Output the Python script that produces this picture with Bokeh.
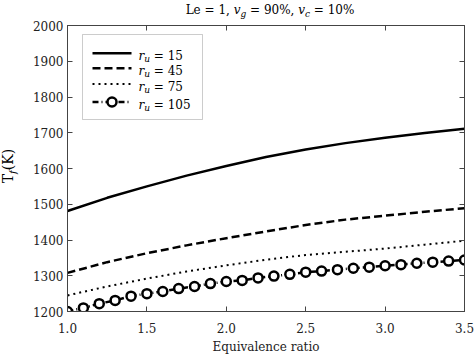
from bokeh.plotting import figure
from bokeh.models import LinearAxis, Range1d, FixedTicker, Label, BoxAnnotation, Div, Row, Column
from bokeh.embed import file_html
from bokeh.resources import INLINE

# ---------------- data ----------------
phi_curve = [1.0, 1.25, 1.5, 1.75, 2.0, 2.25, 2.5, 2.75, 3.0, 3.25, 3.5]
tf_ru15 = [1481, 1518, 1550, 1580, 1607, 1632, 1653, 1671, 1686, 1699, 1711]
tf_ru45 = [1308, 1338, 1363, 1385, 1405, 1424, 1442, 1457, 1468, 1479, 1489]
tf_ru75 = [1245, 1270, 1292, 1312, 1329, 1345, 1358, 1367, 1376, 1387, 1398]
phi_marker = [1.0, 1.1, 1.2, 1.3, 1.4, 1.5, 1.6, 1.7, 1.8, 1.9, 2.0, 2.1, 2.2,
              2.3, 2.4, 2.5, 2.6, 2.7, 2.8, 2.9, 3.0, 3.1, 3.2, 3.3, 3.4, 3.5]
tf_ru105 = [1200, 1210, 1222, 1231, 1243, 1250, 1256, 1264, 1270, 1278, 1284, 1287, 1294,
            1299, 1304, 1310, 1313, 1317, 1321, 1324, 1328, 1331, 1335, 1338, 1341, 1344]
ru_values = ["15", "45", "75", "105"]
x_ticks = [1.0, 1.5, 2.0, 2.5, 3.0, 3.5]
x_tick_labels = ["1.0", "1.5", "2.0", "2.5", "3.0", "3.5"]
y_ticks = [1200, 1300, 1400, 1500, 1600, 1700, 1800, 1900, 2000]

X0, X1 = 1.0, 3.5
Y0, Y1 = 1200, 2000

# ---------------- layout ----------------
TOTAL_W, TOTAL_H = 474, 356
TITLE_H = 20
YLAB_W = 24
W, H = TOTAL_W - YLAB_W, TOTAL_H - TITLE_H
BL, BR, BT, BB = 43, 10, 5, 43
FW, FH = W - BL - BR, H - BT - BB
FONT = "DejaVu Serif"
AX = "#444444"

p = figure(width=W, height=H, output_backend="svg", toolbar_location=None,
           x_range=Range1d(X0, X1), y_range=Range1d(Y0, Y1),
           min_border_left=BL, min_border_right=BR, min_border_top=BT, min_border_bottom=BB,
           x_axis_label="Equivalence ratio")
p.grid.visible = False
p.outline_line_color = AX
p.background_fill_color = "white"
p.border_fill_color = "white"


def style_axis(ax, show_labels):
    ax.axis_line_color = AX
    ax.major_tick_line_color = AX
    ax.major_tick_in = 5
    ax.major_tick_out = 0
    ax.minor_tick_line_color = None
    if show_labels:
        ax.major_label_text_font = FONT
        ax.major_label_text_font_size = "12px"
        ax.major_label_text_color = "#222222"
    else:
        ax.major_label_text_color = None
        ax.major_label_text_font_size = "1px"
        ax.major_label_standoff = 0


p.xaxis.ticker = FixedTicker(ticks=x_ticks)
p.xaxis.major_label_overrides = {t: l for t, l in zip(x_ticks, x_tick_labels)}
p.yaxis.ticker = FixedTicker(ticks=y_ticks)
style_axis(p.xaxis[0], True)
style_axis(p.yaxis[0], True)
p.xaxis.major_label_standoff = 11
p.yaxis.major_label_standoff = 4
p.xaxis.axis_label_text_font = FONT
p.xaxis.axis_label_text_font_size = "12px"
p.xaxis.axis_label_text_font_style = "normal"
p.xaxis.axis_label_text_color = "#222222"
p.xaxis.axis_label_standoff = 4

top_ax = LinearAxis(ticker=FixedTicker(ticks=x_ticks))
style_axis(top_ax, False)
p.add_layout(top_ax, "above")
right_ax = LinearAxis(ticker=FixedTicker(ticks=y_ticks))
style_axis(right_ax, False)
p.add_layout(right_ax, "right")

# ---------------- series ----------------
p.line(phi_curve, tf_ru15, line_color="black", line_width=2.5)
p.line(phi_curve, tf_ru45, line_color="black", line_width=2.5, line_dash="8 4")
p.line(phi_curve, tf_ru75, line_color="black", line_width=2, line_dash="2 4")
p.line(phi_marker, tf_ru105, line_color="black", line_width=2.5, line_dash="6 3 1 3")
p.scatter(phi_marker, tf_ru105, marker="circle", size=9, line_color="black",
          line_width=2.5, fill_color="white")

# ---------------- legend (inside the frame) ----------------
EM = {" ": .318, ",": .318, "=": .838, "%": .950, "r": .478, "u": .644}


def tw(s, size):
    return sum(EM.get(ch, .636) for ch in s) * size


def add_text(s, sx, sy, size, italic=False):
    p.add_layout(Label(x=sx, y=sy, x_units="screen", y_units="screen", text=s,
                       text_font=FONT, text_font_size=f"{size}px",
                       text_font_style="italic" if italic else "normal",
                       text_color="black", text_baseline="alphabetic",
                       text_align="left"))


def rich(pieces, sx, sy):
    pos = 0.0
    for s, size, italic, shift in pieces:
        lead = len(s) - len(s.lstrip(" "))
        core = s.strip(" ")
        if core:
            add_text(core, sx + pos + tw(" " * lead, size), sy + shift, size, italic)
        pos += tw(s, size)


def dx(sx):
    return X0 + sx / FW * (X1 - X0)


def dy(sy):
    return Y0 + sy / FH * (Y1 - Y0)


p.add_layout(BoxAnnotation(left=15, right=135, top=277, bottom=192,
                           left_units="screen", right_units="screen",
                           top_units="screen", bottom_units="screen",
                           fill_color="white", fill_alpha=1.0, line_color="#555555",
                           line_width=1, level="underlay"))
rows = [260, 245, 229, 211]
styles = [dict(line_width=2.5), dict(line_width=2.5, line_dash="8 4"),
          dict(line_width=2, line_dash="2 4"), dict(line_width=2.5, line_dash="6 3 1 3")]
for ry, st, ru in zip(rows, styles, ru_values):
    p.line([dx(25), dx(64)], [dy(ry), dy(ry)], line_color="black", **st)
    rich([("r", 12, True, 0), ("u", 9, True, -3), (" = " + ru, 12, False, 0)], 71, ry - 4)
p.scatter([dx(44.5)], [dy(rows[3])], marker="circle", size=9, line_color="black",
          line_width=2.5, fill_color="white")

# ---------------- title and y label (rich text) ----------------
FONT_CSS = f"font-family:'{FONT}',serif;color:black;white-space:nowrap;"
title_html = (
    f'<div style="position:relative;width:{TOTAL_W}px;height:{TITLE_H}px;">'
    f'<div style="position:absolute;left:270px;top:4px;transform:translateX(-50%);'
    f'{FONT_CSS}font-size:12px;line-height:12px;">'
    f'Le = 1, <i>v</i><span style="font-size:9px;font-style:italic;position:relative;top:3px;">g</span>'
    f' = 90%, <i>v</i><span style="font-size:9px;font-style:italic;position:relative;top:3px;">c</span>'
    f' = 10%</div></div>'
)
title_div = Div(text=title_html, width=TOTAL_W, height=TITLE_H, margin=0)

ylab_html = (
    f'<div style="position:relative;width:{YLAB_W}px;height:{H}px;">'
    f'<div style="position:absolute;left:9px;top:{166 - TITLE_H}px;'
    f'transform:translate(-50%,-50%) rotate(-90deg);'
    f'{FONT_CSS}font-size:14px;line-height:14px;">'
    f'T<span style="font-size:10px;font-style:italic;position:relative;top:3px;">f</span>(K)</div></div>'
)
ylab_div = Div(text=ylab_html, width=YLAB_W, height=H, margin=0)

layout = Column(children=[title_div, Row(children=[ylab_div, p], spacing=0)], spacing=0)

open("out.html", "w").write(file_html(layout, INLINE))
